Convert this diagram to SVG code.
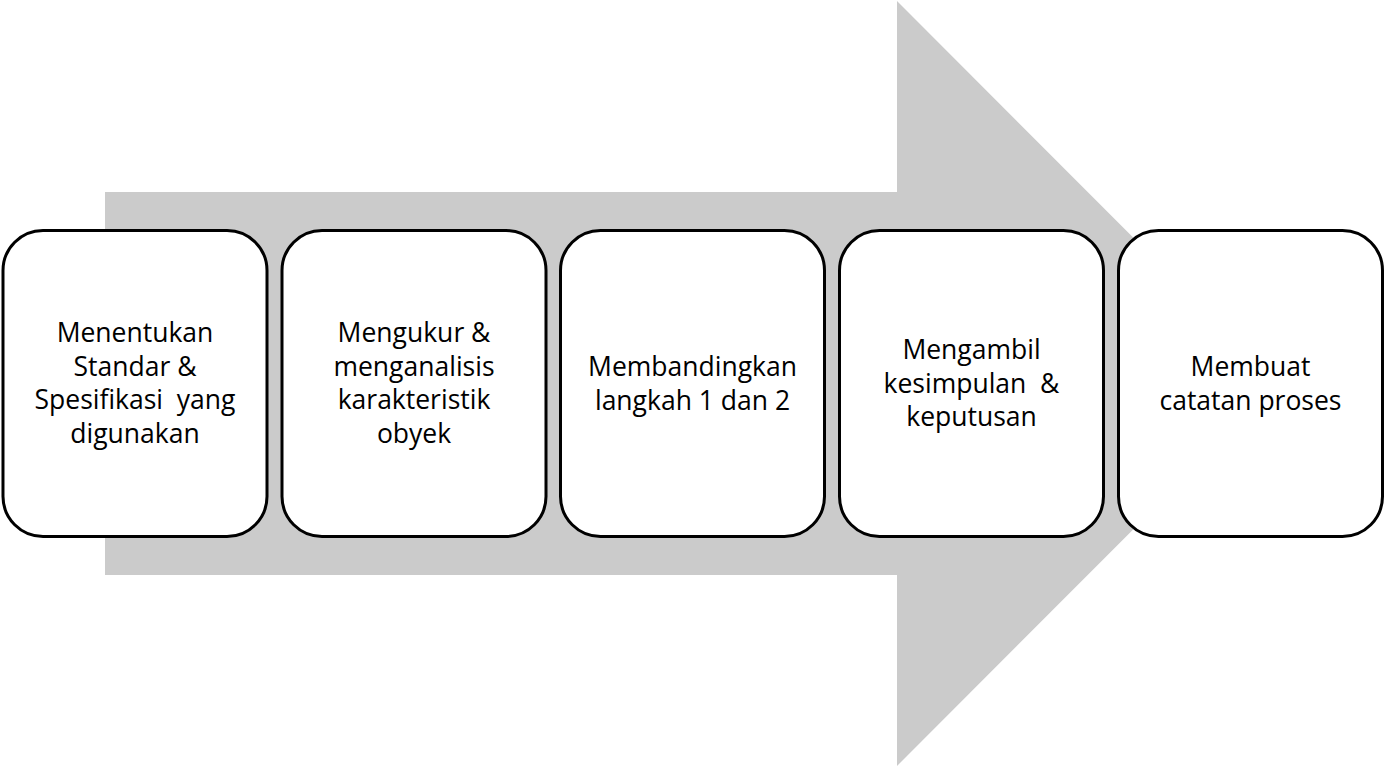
<svg xmlns="http://www.w3.org/2000/svg" width="1385" height="767" viewBox="0 0 1385 767">
<style>
.box{fill:#ffffff;stroke:#000000;stroke-width:3}
.lbl{font-family:"Open Sans","Noto Sans","Liberation Sans",sans-serif;font-size:26.5px;fill:#000000;text-anchor:middle}
</style>
<rect width="1385" height="767" fill="#ffffff"/>
<g id="arrow">
<polygon points="105,192 897,192 897,1 1279,383.5 897,766 897,575 105,575" fill="#cbcbcb"/>
</g>
<g id="connectors"></g>
<g id="node1">
<rect class="box" x="3" y="230.5" width="264" height="306" rx="40"/>
<text class="lbl"><tspan x="135" y="342">Menentukan</tspan><tspan x="135" y="375.5">Standar &amp;</tspan><tspan x="135" y="409" xml:space="preserve">Spesifikasi  yang</tspan><tspan x="135" y="443">digunakan</tspan></text>
</g>
<g id="node2">
<rect class="box" x="282" y="230.5" width="264" height="306" rx="40"/>
<text class="lbl"><tspan x="414" y="342">Mengukur &amp;</tspan><tspan x="414" y="375.5">menganalisis</tspan><tspan x="414" y="409">karakteristik</tspan><tspan x="414" y="443">obyek</tspan></text>
</g>
<g id="node3">
<rect class="box" x="560.5" y="230.5" width="264" height="306" rx="40"/>
<text class="lbl"><tspan x="692.5" y="376">Membandingkan</tspan><tspan x="692.5" y="410">langkah 1 dan 2</tspan></text>
</g>
<g id="node4">
<rect class="box" x="839.5" y="230.5" width="264" height="306" rx="40"/>
<text class="lbl"><tspan x="971.5" y="359">Mengambil</tspan><tspan x="971.5" y="392.7" xml:space="preserve">kesimpulan  &amp;</tspan><tspan x="971.5" y="426.4">keputusan</tspan></text>
</g>
<g id="node5">
<rect class="box" x="1118.5" y="230.5" width="264" height="306" rx="40"/>
<text class="lbl"><tspan x="1250.5" y="376">Membuat</tspan><tspan x="1250.5" y="410">catatan proses</tspan></text>
</g>
</svg>
